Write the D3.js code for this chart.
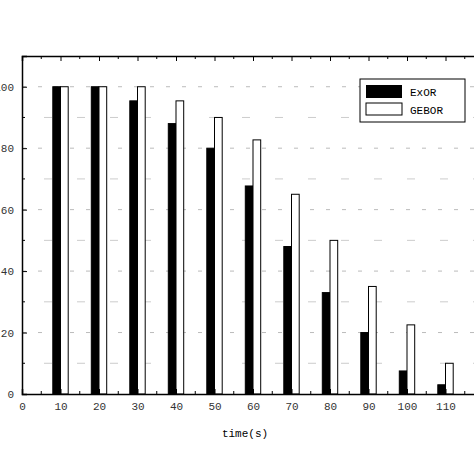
<!DOCTYPE html>
<html><head><meta charset="utf-8">
<script src="https://cdn.jsdelivr.net/npm/d3@7"></script>
<style>body{margin:0;background:#fff}text{font-family:"Liberation Mono","DejaVu Sans Mono",monospace;font-size:11px}</style>
</head><body><svg width="474" height="474"></svg>
<script>
// chart data
var times = [10, 20, 30, 40, 50, 60, 70, 80, 90, 100, 110];
var exor = [100, 100, 95.4, 88, 80, 67.7, 48, 33, 20, 7.5, 3];
var gebor = [100, 100, 100, 95.4, 90, 82.7, 65, 50, 35, 22.5, 10];
var xTicks = [0, 10, 20, 30, 40, 50, 60, 70, 80, 90, 100, 110, 120];
var yTicks = [0, 20, 40, 60, 80, 100];

var svg = d3.select("svg");
var x = d3.scaleLinear().domain([0, 120]).range([22, 484]);
var y = d3.scaleLinear().domain([0, 110]).range([394, 56]);
var bw = x(2) - x(0);

// grid
var g = svg.append("g");
g.selectAll("line.maj").data(yTicks.slice(1)).enter().append("line")
  .attr("x1", 22).attr("x2", 474).attr("y1", d => y(d)).attr("y2", d => y(d))
  .attr("stroke", "#bbb").attr("stroke-dasharray", "4,12");
g.selectAll("line.min").data([10, 30, 50, 70, 90]).enter().append("line")
  .attr("x1", 44).attr("x2", 474).attr("y1", d => y(d)).attr("y2", d => y(d))
  .attr("stroke", "#ccc").attr("stroke-dasharray", "8,25");

svg.selectAll("rect.ex").data(times).enter().append("rect")
  .attr("x", (d) => x(d) - bw).attr("width", bw)
  .attr("y", (d, i) => y(exor[i])).attr("height", (d, i) => y(0) - y(exor[i]))
  .attr("fill", "#000").attr("stroke", "#000");
svg.selectAll("rect.ge").data(times).enter().append("rect")
  .attr("x", (d) => x(d)).attr("width", bw)
  .attr("y", (d, i) => y(gebor[i])).attr("height", (d, i) => y(0) - y(gebor[i]))
  .attr("fill", "#fff").attr("stroke", "#000");

// axes
var xa = svg.append("g").attr("transform", "translate(0,394)")
  .call(d3.axisBottom(x).tickValues(xTicks).tickSize(-5).tickPadding(8));
xa.selectAll("line.minor").data(xTicks.map(d => d + 5)).enter().append("line")
  .attr("x1", d => x(d)).attr("x2", d => x(d)).attr("y1", 0).attr("y2", -3).attr("stroke", "#000");
var xt = svg.append("g").attr("transform", "translate(0,56)")
  .call(d3.axisTop(x).tickValues(xTicks).tickSize(-5).tickFormat(""));
xt.selectAll("line.minor").data(xTicks.map(d => d + 5)).enter().append("line")
  .attr("x1", d => x(d)).attr("x2", d => x(d)).attr("y1", 0).attr("y2", 3).attr("stroke", "#000");
var ya = svg.append("g").attr("transform", "translate(22,0)")
  .call(d3.axisLeft(y).tickValues(yTicks).tickSize(-5).tickPadding(8));
ya.selectAll("line.minor").data([10, 30, 50, 70, 90]).enter().append("line")
  .attr("x1", 0).attr("x2", 3).attr("y1", d => y(d)).attr("y2", d => y(d)).attr("stroke", "#000");
svg.selectAll(".domain").attr("stroke", "#000").attr("stroke-width", 1.5);
svg.selectAll(".tick text").attr("fill", "#333");

svg.append("text").attr("x", 245).attr("y", 437).attr("text-anchor", "middle").text("time(s)");

// legend
var lg = svg.append("g").attr("transform", "translate(360,79)");
lg.append("rect").attr("width", 105).attr("height", 43).attr("fill", "#fff").attr("stroke", "#000");
lg.append("rect").attr("x", 6).attr("y", 6).attr("width", 36).attr("height", 13).attr("fill", "#000");
lg.append("rect").attr("x", 6).attr("y", 24).attr("width", 36).attr("height", 12).attr("fill", "#fff").attr("stroke", "#000");
lg.append("text").attr("x", 50).attr("y", 17).text("ExOR");
lg.append("text").attr("x", 50).attr("y", 35).text("GEBOR");
</script></body></html>
